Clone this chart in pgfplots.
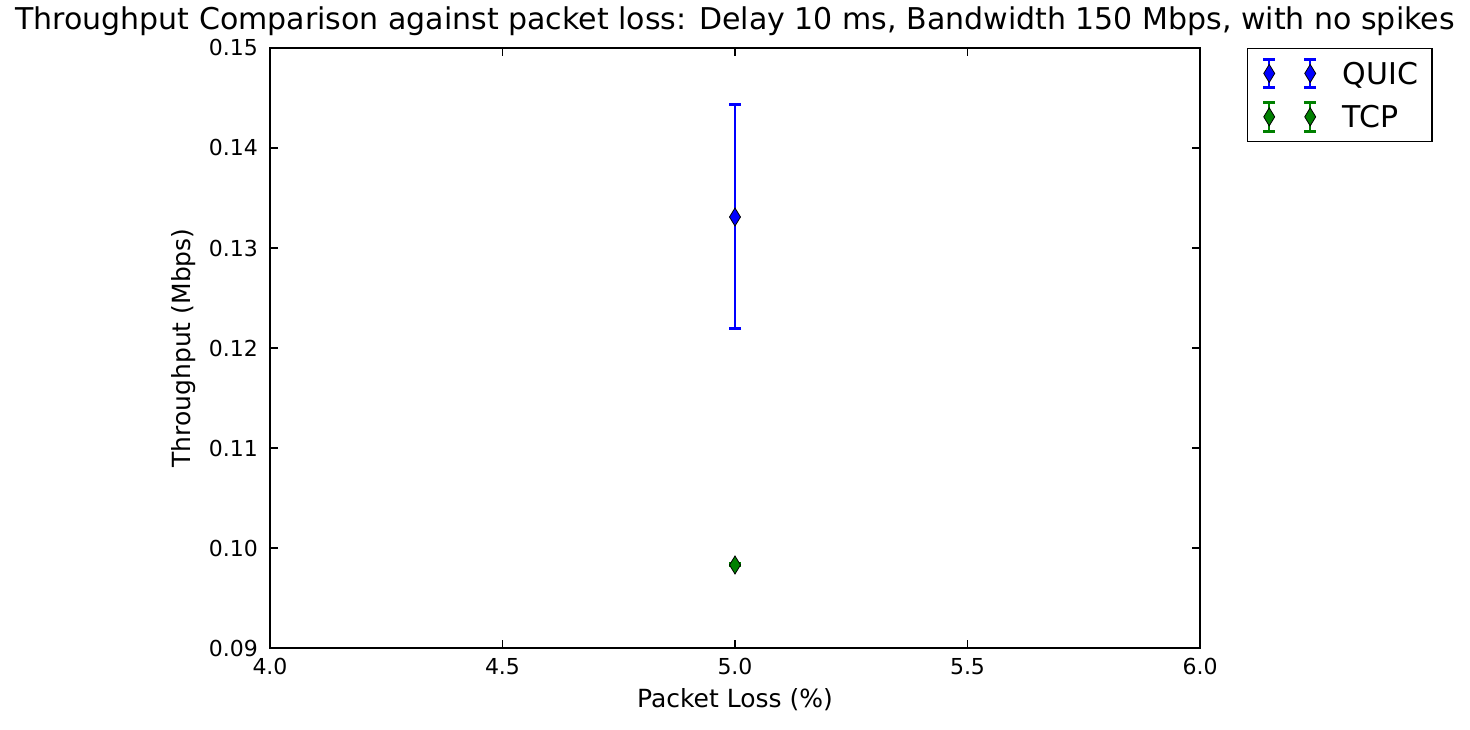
\documentclass[border=0pt]{standalone}
\usepackage{fontspec}
\setmainfont{DejaVu Sans}
\usepackage{pgfplots}
\pgfplotsset{compat=1.18}
\definecolor{mplblue}{RGB}{0,0,255}
\definecolor{mplgreen}{RGB}{0,128,0}
\pgfplotsset{
  errleg/.style={legend image code/.code={%
    \foreach \xx in {0pt,41pt}{%
      \draw[#1,line width=2pt] (\xx,-14.2pt) -- (\xx,14.2pt);
      \draw[#1,line width=3pt] ([xshift=-6pt]\xx,-14.2pt) -- ([xshift=6pt]\xx,-14.2pt);
      \draw[#1,line width=3pt] ([xshift=-6pt]\xx,14.2pt) -- ([xshift=6pt]\xx,14.2pt);
      \path[draw=black,fill=#1,line width=0.8pt] (\xx,9pt) -- ([xshift=5.5pt]\xx,0pt) -- (\xx,-9pt) -- ([xshift=-5.5pt]\xx,0pt) -- cycle;
    }%
  }},
}
\begin{document}
\begin{tikzpicture}
\useasboundingbox (-270pt,-82pt) rectangle (1200pt,648pt);
\begin{axis}[
  at={(0pt,0pt)}, anchor=south west,
  scale only axis, width=930pt, height=600pt,
  xmin=4, xmax=6, ymin=0.09, ymax=0.15,
  xtick={4,4.5,5,5.5,6},
  ytick={0.09,0.10,0.11,0.12,0.13,0.14,0.15},
  /pgf/number format/assume math mode=true,
  xticklabel style={/pgf/number format/fixed, /pgf/number format/fixed zerofill, /pgf/number format/precision=1},
  yticklabel style={/pgf/number format/fixed, /pgf/number format/fixed zerofill, /pgf/number format/precision=2},
  tick label style={font=\fontsize{22}{26}\selectfont, inner sep=0pt},
  xticklabel style={anchor=base, yshift=-27pt},
  yticklabel style={anchor=east, xshift=-12pt},
  tick align=inside, major tick length=8pt,
  tick style={black, line width=1.2pt},
  axis line style={line width=1.5pt},
  title={Throughput Comparison against packet loss: Delay 10 ms, Bandwidth 150 Mbps, with no spikes},
  title style={font=\fontsize{30}{34}\selectfont, at={(axis description cs:0.5,1)}, anchor=base, yshift=12.3pt, inner sep=0pt},
  xlabel={Packet Loss (\%)},
  xlabel style={font=\fontsize{25}{29}\selectfont, at={(axis description cs:0.5,0)}, anchor=base, yshift=-60pt, inner sep=0pt},
  ylabel={Throughput (Mbps)},
  ylabel style={font=\fontsize{25}{29}\selectfont, at={(axis description cs:-0.086,0.5)}, anchor=base, inner sep=0pt},
  legend style={at={(axis description cs:1.0505,1)}, anchor=north west, draw=black, line width=1.5pt,
    font=\fontsize{30}{34}\selectfont, inner xsep=14pt, inner ysep=9pt, row sep=12pt, column sep=25pt,
    nodes={inner sep=0pt, text depth=0pt}},
  legend cell align=left,
]
\addplot[only marks, mark=diamond*, mark size=9pt, mark options={xscale=0.815, draw=black, fill=mplblue, line width=0.8pt},
  errleg=mplblue,
  error bars/.cd, y dir=both, y explicit,
  error bar style={mplblue, line width=2pt},
  error mark options={rotate=90, mplblue, mark size=6pt, line width=3pt}]
  coordinates {(5,0.1331) +- (0,0.0112)};
\addlegendentry{QUIC}
\addplot[only marks, mark=diamond*, mark size=9pt, mark options={xscale=0.815, draw=black, fill=mplgreen, line width=0.8pt},
  errleg=mplgreen,
  error bars/.cd, y dir=both, y explicit,
  error bar style={mplgreen, line width=2pt},
  error mark options={rotate=90, mplgreen, mark size=6pt, line width=3pt}]
  coordinates {(5,0.0983) +- (0,0.0001)};
\addlegendentry{TCP}
\end{axis}
\end{tikzpicture}
\end{document}
